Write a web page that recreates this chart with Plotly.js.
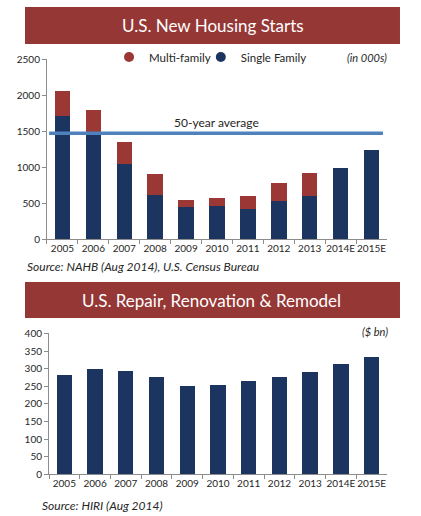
<!DOCTYPE html>
<html>
<head>
<meta charset="utf-8">
<script src="https://cdn.plot.ly/plotly-3.0.1.min.js"></script>
<style>
  body { margin: 0; background: #fff; }
  #myDiv { width: 421px; height: 516px; }
</style>
</head>
<body>
<div id="myDiv"></div>
<script>
// values (starts in 000s, remodel in $ bn)
var years = ['2005', '2006', '2007', '2008', '2009', '2010', '2011', '2012', '2013', '2014E', '2015E'];
var singleFamily = [1716, 1465, 1046, 616, 445, 467, 428, 530, 610, 995, 1236];
var multiFamily = [352, 336, 309, 287, 109, 114, 176, 248, 312, 0, 0];
var avgStarts = 1475;
var remodel = [282, 299, 293, 277, 252, 253, 264, 276, 292, 312, 333];

var navy = '#1c3560';
var red = '#9b3835';
var banner = '#953735';
var tickFont = { family: 'Lato, sans-serif', size: 10, color: '#262626' };

var Single = {
  x: years,
  y: singleFamily,
  type: 'bar',
  name: 'Single Family',
  marker: { color: navy },
  showlegend: false,
  xaxis: 'x',
  yaxis: 'y'
};

var Multi = {
  x: years,
  y: multiFamily,
  type: 'bar',
  name: 'Multi-family',
  marker: { color: red },
  showlegend: false,
  xaxis: 'x',
  yaxis: 'y'
};

var Remodel = {
  x: years,
  y: remodel,
  type: 'bar',
  name: 'Repair, Renovation & Remodel',
  marker: { color: navy },
  showlegend: false,
  xaxis: 'x2',
  yaxis: 'y2'
};

// round legend markers, like the original (one legend box each so they sit close)
var legMulti = {
  x: [null], y: [null],
  type: 'scatter', mode: 'markers',
  name: 'Multi-family',
  marker: { color: red, size: 10 },
  legend: 'legend',
  xaxis: 'x', yaxis: 'y'
};
var legSingle = {
  x: [null], y: [null],
  type: 'scatter', mode: 'markers',
  name: 'Single Family',
  marker: { color: navy, size: 10 },
  legend: 'legend2',
  xaxis: 'x', yaxis: 'y'
};

var data = [Single, Multi, Remodel, legMulti, legSingle];

function xAxis(dom, anchor) {
  return {
    domain: dom,
    anchor: anchor,
    type: 'category',
    range: [-0.5, 10.5],
    showline: true,
    linecolor: '#8c8c8c',
    linewidth: 1,
    ticks: 'outside',
    tickson: 'boundaries',
    ticklen: 4,
    tickcolor: '#8c8c8c',
    tickfont: tickFont,
    tickangle: 0,
    showgrid: false,
    zeroline: false,
    fixedrange: true
  };
}

function yAxis(dom, anchor, max, step) {
  return {
    domain: dom,
    anchor: anchor,
    range: [0, max],
    dtick: step,
    showline: true,
    linecolor: '#8c8c8c',
    linewidth: 1,
    ticks: 'outside',
    ticklen: 4,
    tickcolor: '#8c8c8c',
    tickfont: tickFont,
    showgrid: false,
    zeroline: false,
    fixedrange: true
  };
}

function legendAt(xp) {
  return {
    orientation: 'h',
    x: xp,
    y: 0.8895,
    xanchor: 'left',
    yanchor: 'middle',
    itemwidth: 30,
    bgcolor: 'rgba(255,255,255,0)',
    font: { family: 'Lato, sans-serif', size: 11.5, color: '#262626' }
  };
}

// paper-placed text, always centred on its y
function note(txt, xp, yp, xa, size, color) {
  return {
    text: txt, xref: 'paper', yref: 'paper', x: xp, y: yp,
    xanchor: xa, yanchor: 'middle', showarrow: false,
    font: { family: 'Lato, sans-serif', size: size, color: color }
  };
}

var layout = {
  width: 421,
  height: 516,
  autosize: false,
  margin: { l: 0, r: 0, t: 0, b: 0 },
  paper_bgcolor: '#fff',
  plot_bgcolor: '#fff',
  barmode: 'stack',
  bargap: 0.5,
  font: { family: 'Lato, sans-serif', color: '#262626' },
  xaxis: xAxis([0.1116, 0.9192], 'y'),
  yaxis: yAxis([0.5359, 0.8847], 'x', 2500, 500),
  xaxis2: xAxis([0.1164, 0.9192], 'y2'),
  yaxis2: yAxis([0.0808, 0.3537], 'x2', 400, 50),
  showlegend: true,
  legend: legendAt(0.259),
  legend2: legendAt(0.477),
  shapes: [
    { type: 'rect', xref: 'paper', yref: 'paper', x0: 0.0594, x1: 0.9501, y0: 0.9147, y1: 0.9864,
      fillcolor: banner, line: { width: 0 }, layer: 'below' },
    { type: 'rect', xref: 'paper', yref: 'paper', x0: 0.0594, x1: 0.9501, y0: 0.3837, y1: 0.4535,
      fillcolor: banner, line: { width: 0 }, layer: 'below' },
    { type: 'line', xref: 'x', yref: 'y', x0: -0.43, x1: 10.37, y0: avgStarts, y1: avgStarts,
      line: { color: '#4f81bd', width: 3.5 } }
  ],
  annotations: [
    note('U.S. New Housing Starts', 0.5048, 0.9506, 'center', 17, '#fff'),
    note('U.S. Repair, Renovation &amp; Remodel', 0.5024, 0.4173, 'center', 17, '#fff'),
    { text: '50-year average', xref: 'x', yref: 'y', x: 5, y: 1625, yanchor: 'middle',
      showarrow: false, font: { family: 'Lato, sans-serif', size: 12, color: '#262626' } },
    note('<i>(in 000s)</i>', 0.924, 0.8895, 'right', 11, '#262626'),
    note('<i>($ bn)</i>', 0.926, 0.3572, 'right', 11, '#262626'),
    note('<i>Source: NAHB (Aug 2014), U.S. Census Bureau</i>', 0.0594, 0.4826, 'left', 12, '#262626'),
    note('<i>Source: HIRI (Aug 2014)</i>', 0.095, 0.02, 'left', 12, '#262626')
  ]
};

Plotly.newPlot('myDiv', data, layout, { displayModeBar: false, staticPlot: true });
</script>
</body>
</html>
